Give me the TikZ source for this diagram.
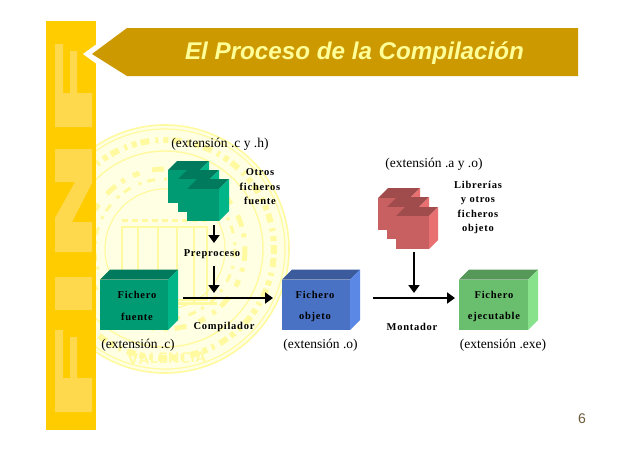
\documentclass[tikz,border=0pt]{standalone}
\usepackage{fontspec}
\setmainfont{Liberation Serif}
\newfontfamily\sansf{Liberation Sans}
\newfontfamily\boldsp[LetterSpace=7,BoldFont={Liberation Serif Bold}]{Liberation Serif}
\usetikzlibrary{arrows.meta,decorations.text}
\definecolor{sidebar}{HTML}{FFCC00}
\definecolor{letter}{HTML}{FFD94D}
\definecolor{banner}{HTML}{CC9900}
\definecolor{titlec}{HTML}{FFFF99}
\definecolor{seal}{HTML}{FFFAA0}
\definecolor{sealbg}{HTML}{FFFFE4}
\definecolor{numc}{HTML}{6B5A3A}
\definecolor{gF}{HTML}{009A73}\definecolor{gT}{HTML}{007A5C}\definecolor{gS}{HTML}{00B587}
\definecolor{bF}{HTML}{4A72C4}\definecolor{bT}{HTML}{3B5B9C}\definecolor{bS}{HTML}{5A88E4}
\definecolor{rF}{HTML}{C85F60}\definecolor{rT}{HTML}{A04C4D}\definecolor{rS}{HTML}{E87070}
\definecolor{eF}{HTML}{6ABF6F}\definecolor{eT}{HTML}{559858}\definecolor{eS}{HTML}{88E28C}
\tikzset{
  x=1pt,y=-1pt,
  lbl/.style={font=\fontsize{13.5}{15}\selectfont,inner sep=0pt,text=black},
  bold/.style={font=\boldsp\fontsize{10.5}{14.5}\bfseries\selectfont,inner sep=0pt,align=center,text=black},
  conn/.style={line width=2pt,-{Triangle[length=8pt,width=11pt]}},
}
% cube: x y w h depth colours (top, front, side)
\newcommand{\cube}[8]{%
  \fill[#6] (#1,#2) -- ++(#5,-#5) -- ++(#3,0) -- ++(-#5,#5) -- cycle;
  \fill[#8] (#1+#3,#2) -- ++(#5,-#5) -- ++(0,#4) -- ++(-#5,#5) -- cycle;
  \fill[#7] (#1,#2) rectangle ++(#3,#4);
}
\begin{document}
\begin{tikzpicture}
\useasboundingbox (0,0) rectangle (638,451);
\fill[white] (0,0) rectangle (638,451);
% seal
\begin{scope}
\clip (96,100) rectangle (320,400);
\fill[sealbg] (165,249) circle (124);
\draw[seal,line width=1.6pt] (165,249) circle (124);
\draw[seal,line width=1.2pt] (165,249) circle (120);
\draw[seal,line width=1.4pt] (165,249) circle (98);
\draw[seal,line width=1.2pt] (165,249) circle (60);
\draw[seal,line width=6pt,dash pattern=on 5pt off 4pt on 9pt off 6pt on 3pt off 5pt] (165,249) circle (109);
\draw[seal,line width=5pt,dash pattern=on 12pt off 7pt on 4pt off 9pt on 7pt off 13pt] (165,249) circle (80);
\draw[seal,line width=3pt,dash pattern=on 8pt off 9pt on 3pt off 6pt] (165,249) circle (70);
\draw[seal,line width=1.6pt] (122,227) rectangle (207,300);
\foreach \cx in {138,158,177,194}{\draw[seal,line width=1.6pt] (\cx,227) -- (\cx,300);}
\draw[seal,line width=3pt,dash pattern=on 6pt off 4pt] (122,220) -- (207,220);
\draw[seal,line width=3pt] (112,303) -- (217,303);
\path[decorate,decoration={text along path,text align=center,
  text={|\sffamily\bfseries\fontsize{15}{15}\selectfont\color{seal}|VALENCIA}}]
  (112,365) -- (222,362);
\end{scope}
% sidebar
\fill[sidebar] (46,21) rectangle (96,430);
\fill[letter] (55,44) -- (63,44) -- (63,93) -- (70,93) -- (70,51) -- (77,51) -- (77,93) -- (92,93) -- (92,127) -- (55,127) -- cycle;
\fill[letter] (55,149) -- (92,149) -- (92,183) -- (72,222) -- (92,222) -- (92,252) -- (55,252) -- (55,218) -- (75,182) -- (55,182) -- cycle;
\fill[letter] (55,277) rectangle (92,310);
\fill[letter] (55,330) -- (63,330) -- (63,378) -- (70,378) -- (70,337) -- (77,337) -- (77,378) -- (92,378) -- (92,412) -- (55,412) -- cycle;
% banner
\fill[white] (83,54) -- (127,22) -- (127,86) -- cycle;
\fill[banner] (92,54) -- (127,28) -- (578,28) -- (578,76) -- (127,76) -- cycle;
\node[font=\sansf\fontsize{24.2}{28}\bfseries\itshape\selectfont,text=titlec,inner sep=0pt] (title) at (354.5,53) {El Proceso de la Compilación};
% stacks
\cube{168}{170}{32}{33}{9}{gT}{gF}{gS}
\cube{178}{179}{32}{33}{9}{gT}{gF}{gS}
\cube{187}{189}{32}{32}{10}{gT}{gF}{gS}
\cube{378}{198}{32}{32}{10}{rT}{rF}{rS}
\cube{387}{207}{32}{32}{10}{rT}{rF}{rS}
\cube{396}{216}{33}{33}{9}{rT}{rF}{rS}
% boxes
\cube{100}{279.5}{68}{50.5}{10}{gT}{gF}{gS}
\cube{282}{279.5}{68}{50.5}{10}{bT}{bF}{bS}
\cube{459}{279.5}{69}{50.5}{10}{eT}{eF}{eS}
% anchors
\coordinate (stackG) at (214,225);
\coordinate (preIn) at (214,243);
\coordinate (preTop) at (214,266);
\coordinate (joinC) at (214,293);
\coordinate (fuenteE) at (183,298);
\coordinate (objetoW) at (273,298);
\coordinate (objetoE) at (373,298);
\coordinate (ejecW) at (455,298);
\coordinate (stackR) at (414,252);
\coordinate (joinM) at (414,293);
% labels
\node[lbl] (l1) at (220,144.7) {(extensión .c y .h)};
\node[lbl] (l2) at (434,164.2) {(extensión .a y .o)};
\node[lbl] (l3) at (138,345.5) {(extensión .c)};
\node[lbl] (l4) at (320.5,345.5) {(extensión .o)};
\node[lbl] (l5) at (503,345.5) {(extensión .exe)};
\node[bold] (otros) at (260,186.7) {Otros\\ficheros\\fuente};
\node[bold] (libs) at (478,207.7) {Librerías\\y otros\\ficheros\\objeto};
\node[bold] (pre) at (212,254) {Preproceso};
\node[bold] (comp) at (224,327) {Compilador};
\node[bold] (mont) at (412,327) {Montador};
\node[bold] (t1) at (137,295) {Fichero};
\node[bold] (t2) at (137,317) {fuente};
\node[bold] (t3) at (315,295) {Fichero};
\node[bold] (t4) at (315,317) {objeto};
\node[bold] (t5) at (494,295) {Fichero};
\node[bold] (t6) at (494,317) {ejecutable};
\node[font=\sansf\fontsize{14}{16}\selectfont,text=numc,inner sep=0pt] (num) at (582,419) {6};
% connectors
\draw[conn] (stackG) -- (preIn);
\draw[conn] (preTop) -- (joinC);
\draw[conn] (fuenteE) -- (objetoW);
\draw[conn] (stackR) -- (joinM);
\draw[conn] (objetoE) -- (ejecW);
\end{tikzpicture}
\end{document}
